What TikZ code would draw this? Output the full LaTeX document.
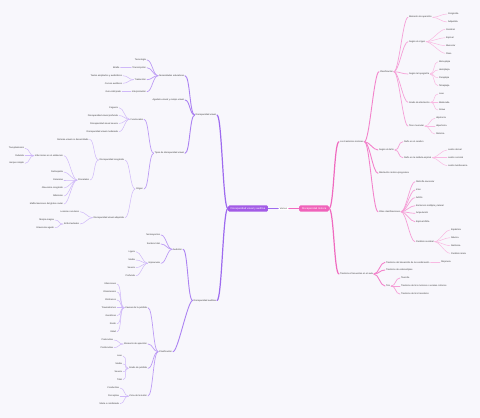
\documentclass[tikz,border=0pt]{standalone}
\usepackage{fontspec}
\setmainfont{Liberation Sans}
\definecolor{bg}{HTML}{F8F7FC}
\definecolor{txt}{HTML}{3C3C3C}
\definecolor{pA}{HTML}{9E6BEF}
\definecolor{pB}{HTML}{AC82F2}
\definecolor{pC}{HTML}{BD9CF5}
\definecolor{pD}{HTML}{CFB8F8}
\definecolor{kA}{HTML}{F06ABF}
\definecolor{kB}{HTML}{F383CB}
\definecolor{kC}{HTML}{F59FD7}
\definecolor{kD}{HTML}{F8B9E2}
\definecolor{boxP}{HTML}{A35BE6}
\definecolor{boxK}{HTML}{F062BA}
\newcommand\mmfont{\fontsize{2.3}{2.6}\selectfont}
\newcommand\mmroot{\fontsize{2.6}{3}\selectfont}
\begin{document}
\begin{tikzpicture}[x=1pt,y=-1pt,line cap=round,
  t/.style={font=\mmfont, text=txt, inner xsep=0.8pt, inner ysep=0.4pt},
  L/.style={t,anchor=east}, R/.style={t,anchor=west},
  ll/.style={to path={.. controls +(-5,0) and +(5,0) .. (\tikztotarget)}},
  rl/.style={to path={.. controls +(5,0) and +(-5,0) .. (\tikztotarget)}},
  lA/.style={draw=pA,line width=1.2pt,ll}, lB/.style={draw=pB,line width=0.9pt,ll},
  lC/.style={draw=pC,line width=0.7pt,ll}, lD/.style={draw=pD,line width=0.5pt,ll},
  rA/.style={draw=kA,line width=1.2pt,rl}, rB/.style={draw=kB,line width=0.9pt,rl},
  rC/.style={draw=kC,line width=0.7pt,rl}, rD/.style={draw=kD,line width=0.5pt,rl},
  rootbox/.style={font=\mmroot, text=white, rounded corners=1.2pt, inner xsep=2.6pt, inner ysep=1.8pt}]
\fill[bg] (0,0) rectangle (480,418);
\useasboundingbox (0,0) rectangle (480,418);

% ---------- centre ----------
\node[rootbox, fill=boxP] (rootL) at (248,208.5) {Discapacidad visual y auditiva};
\node[t, fill=white, inner xsep=1.5pt, inner ysep=1pt] (mid) at (283.5,208.5) {Versus};
\node[rootbox, fill=boxK, anchor=west] (rootR) at (299,208.5) {Discapacidad motora};
\draw[draw=pA, line width=0.9pt] (rootL.east) -- (mid.west);
\draw[draw=kA, line width=0.9pt] (mid.east) -- (rootR.west);

% ---------- left: visual ----------
\node[L] (dv) at (217,115) {Discapacidad visual};
\node[L] (da) at (217,300.5) {Discapacidad auditiva};
\draw[lA] (rootL.west) to (dv.east);
\draw[lA] (rootL.west) to (da.east);

\node[L] (ne) at (185,75.7) {Necesidades educativas};
\node[L] (ag) at (185,100) {Agudeza visual y campo visual};
\node[L] (tv) at (185,153.3) {Tipos de discapacidad visual};
\foreach \c in {ne,ag,tv} \draw[lB] (dv.west) to (\c.east);

\node[L] (tec) at (147,60) {Tecnología};
\node[L] (tra) at (147,67.7) {Transcripción};
\node[L] (trd) at (147,79.7) {Traducción};
\node[L] (itp) at (147,91.7) {Interpretación};
\foreach \c in {tec,tra,trd,itp} \draw[lC] (ne.west) to (\c.east);
\node[L] (bra) at (120.5,67.7) {Braille};
\draw[draw=pD,line width=0.5pt] (tra.west) -- (bra.east);
\node[L] (txa) at (123,75.7) {Textos ampliados y audiolibros};
\node[L] (cau) at (123,83.3) {Cursos auditivos};
\foreach \c in {txa,cau} \draw[lD] (trd.west) to (\c.east);
\node[L] (gui) at (122,91.7) {Guía intérprete};
\draw[draw=pD,line width=0.5pt] (itp.west) -- (gui.east);

\node[L] (fu) at (144,119.3) {Funcionales};
\node[L] (org) at (144,189) {Origen};
\foreach \c in {fu,org} \draw[lC] (tv.west) to (\c.east);
\foreach \n/\y/\tx in {ce/107.7/Ceguera, pf/115.5/Discapacidad visual profunda, sev/123.5/Discapacidad visual severa, mdr/131.7/Discapacidad visual moderada}
  {\node[L] (\n) at (119,\y) {\tx}; \draw[lD] (fu.west) to (\n.east);}

\node[L] (cg) at (125,160) {Discapacidad congénita};
\node[L] (aq) at (125,217.7) {Discapacidad visual adquirida};
\foreach \c in {cg,aq} \draw[lD] (org.west) to (\c.east);

\node[L] (sis) at (89.5,139.3) {Sistema visual no desarrollado};
\node[L] (pre) at (90,180) {Prenatales};
\foreach \c in {sis,pre} \draw[lD] (cg.west) to (\c.east);
\node[L] (inf) at (64,155.7) {Infecciones en el embarazo};
\draw[lD] (pre.west) to (inf.east);
\foreach \n/\y/\tx in {ret/172/Retinopatía, cat/180/Cataratas, glc/188/Glaucoma congénito, alb/196/Albinismo, mal/204/Malformaciones del globo ocular}
  {\node[L] (\n) at (64,\y) {\tx}; \draw[lD] (pre.west) to (\n.east);}
\foreach \n/\y/\tx in {tox/148.3/Toxoplasmosis, rub/155.7/Rubéola, hsp/163.3/Herpes simple}
  {\node[L] (\n) at (25,\y) {\tx}; \draw[lD] (inf.west) to (\n.east);}

\node[L] (les) at (80,211.7) {Lesiones oculares};
\node[L] (enf) at (80,224) {Enfermedades};
\foreach \c in {les,enf} \draw[lD] (aq.west) to (\c.east);
\foreach \n/\y/\tx in {mio/220/Miopía magna, gag/227.7/Glaucoma agudo}
  {\node[L] (\n) at (55,\y) {\tx}; \draw[lD] (enf.west) to (\n.east);}

% ---------- left: auditiva ----------
\node[L] (aud) at (183,249.3) {Audición};
\node[L] (cls) at (173,351.7) {Clasificación};
\foreach \c in {aud,cls} \draw[lB] (da.west) to (\c.east);
\foreach \n/\y/\tx in {nrm/235/Normoyentes, sto/244/Sordera total, hip/263.3/Hipoacusia}
  {\node[L] (\n) at (161,\y) {\tx}; \draw[lC] (aud.west) to (\n.east);}
\foreach \n/\y/\tx in {hl/251.7/Ligera, hm/260/Media, hs/267.7/Severa, hp/275.7/Profunda}
  {\node[L] (\n) at (136,\y) {\tx}; \draw[lD] (hip.west) to (\n.east);}

\foreach \n/\y/\tx in {cp/307.7/Causas de la pérdida, ma/344/Momento de aparición, gp/368.3/Grado de pérdida, zl/396/Zona de la lesión}
  {\node[L] (\n) at (148,\y) {\tx}; \draw[lC] (cls.west) to (\n.east);}
\foreach \n/\y/\tx in {ca1/284/Infecciones, ca2/292/Otosclerosis, ca3/300/Ototóxicos, ca4/307.7/Traumatismos, ca5/315.7/Genéticas, ca6/323.7/Ruido, ca7/331.7/Edad}
  {\node[L] (\n) at (117,\y) {\tx}; \draw[lD] (cp.west) to (\n.east);}
\foreach \n/\y/\tx in {mo1/340/Prelocutiva, mo2/347.7/Postlocutiva}
  {\node[L] (\n) at (114,\y) {\tx}; \draw[lD] (ma.west) to (\n.east);}
\foreach \n/\y/\tx in {gr1/356/Leve, gr2/364/Media, gr3/371.7/Severa, gr4/379.7/Total}
  {\node[L] (\n) at (123,\y) {\tx}; \draw[lD] (gp.west) to (\n.east);}
\foreach \n/\y/\tx in {zo1/388/Conductiva, zo2/396/Perceptiva, zo3/403.7/Mixta o combinada}
  {\node[L] (\n) at (120,\y) {\tx}; \draw[lD] (zl.west) to (\n.east);}

% ---------- right: motora ----------
\node[R] (lt) at (339,141.7) {Los trastornos motores};
\node[R] (tfa) at (339,274) {Trastornos frecuentes en el aula};
\foreach \c in {lt,tfa} \draw[rA] (rootR.east) to (\c.west);

\foreach \n/\x/\y/\tx in {cla/379/71.7/Clasificación, sdn/378/150/Según el daño, afm/378/173.3/Afectación motora progresiva, otc/378/211.7/Otras clasificaciones}
  {\node[R] (\n) at (\x,\y) {\tx}; \draw[rB] (lt.east) to (\n.west);}

\foreach \n/\y/\tx in {mda/17.3/Momento de aparición, sor/41.7/Según el origen, top/74/Según la topografía, gda/102.3/Grado de afectación, ton/126/Tono muscular}
  {\node[R] (\n) at (408,\y) {\tx}; \draw[rC] (cla.east) to (\n.west);}
\foreach \n/\y/\tx in {ma1/14/Congénita, ma2/22/Adquirida}
  {\node[R] (\n) at (447,\y) {\tx}; \draw[rD] (mda.east) to (\n.west);}
\foreach \n/\y/\tx in {or1/29.3/Cerebral, or2/37.7/Espinal, or3/45.7/Muscular, or4/53.3/Óseo}
  {\node[R] (\n) at (445,\y) {\tx}; \draw[rD] (sor.east) to (\n.west);}
\foreach \n/\y/\tx in {tp1/61.7/Monoplejia, tp2/70/Hemiplejia, tp3/77.7/Paraplejia, tp4/85.7/Tetraplejia}
  {\node[R] (\n) at (438,\y) {\tx}; \draw[rD] (top.east) to (\n.west);}
\foreach \n/\y/\tx in {ga1/94/Leve, ga2/102.3/Moderada, ga3/110/Grave}
  {\node[R] (\n) at (438,\y) {\tx}; \draw[rD] (gda.east) to (\n.west);}
\foreach \n/\y/\tx in {to1/118.3/Hipotonía, to2/126/Hipertonía, to3/134/Distonía}
  {\node[R] (\n) at (435,\y) {\tx}; \draw[rD] (ton.east) to (\n.west);}

\node[R] (dce) at (403,141.7) {Daño en el cerebro};
\node[R] (dme) at (403,157.7) {Daño en la médula espinal};
\foreach \c in {dce,dme} \draw[rC] (sdn.east) to (\c.west);
\foreach \n/\y/\tx in {lm1/150/Lesión dorsal, lm2/157.7/Lesión cervical, lm3/165.7/Lesión lumbosacra}
  {\node[R] (\n) at (447,\y) {\tx}; \draw[rD] (dme.east) to (\n.west);}

\foreach \n/\y/\tx in {oc1/181.7/Distrofia muscular, oc2/190/Ictus, oc3/197.7/Artritis, oc4/205.7/Esclerosis múltiple y lateral, oc5/213.3/Amputación, oc6/221.7/Espina bífida, pc/241.7/Parálisis cerebral}
  {\node[R] (\n) at (415,\y) {\tx}; \draw[rC] (otc.east) to (\n.west);}
\foreach \n/\y/\tx in {pc1/230/Espástica, pc2/237.7/Atáxica, pc3/245.7/Atetósica, pc4/253.3/Parálisis mixta}
  {\node[R] (\n) at (450,\y) {\tx}; \draw[rD] (pc.east) to (\n.west);}

\foreach \n/\y/\tx in {tdc/262.3/Trastorno del desarrollo de la coordinación, tes/270/Trastorno de estereotipias, tic/286/Tics}
  {\node[R] (\n) at (385,\y) {\tx}; \draw[rB] (tfa.east) to (\n.west);}
\node[R] (dis) at (440,262.3) {Dispraxia};
\draw[draw=kD,line width=0.5pt] (tdc.east) -- (dis.west);
\foreach \n/\y/\tx in {ti1/278/Tourette, ti2/286/Trastorno de tics motores o vocales crónicos, ti3/294/Trastorno de tics transitorio}
  {\node[R] (\n) at (400,\y) {\tx}; \draw[rC] (tic.east) to (\n.west);}
\end{tikzpicture}
\end{document}
